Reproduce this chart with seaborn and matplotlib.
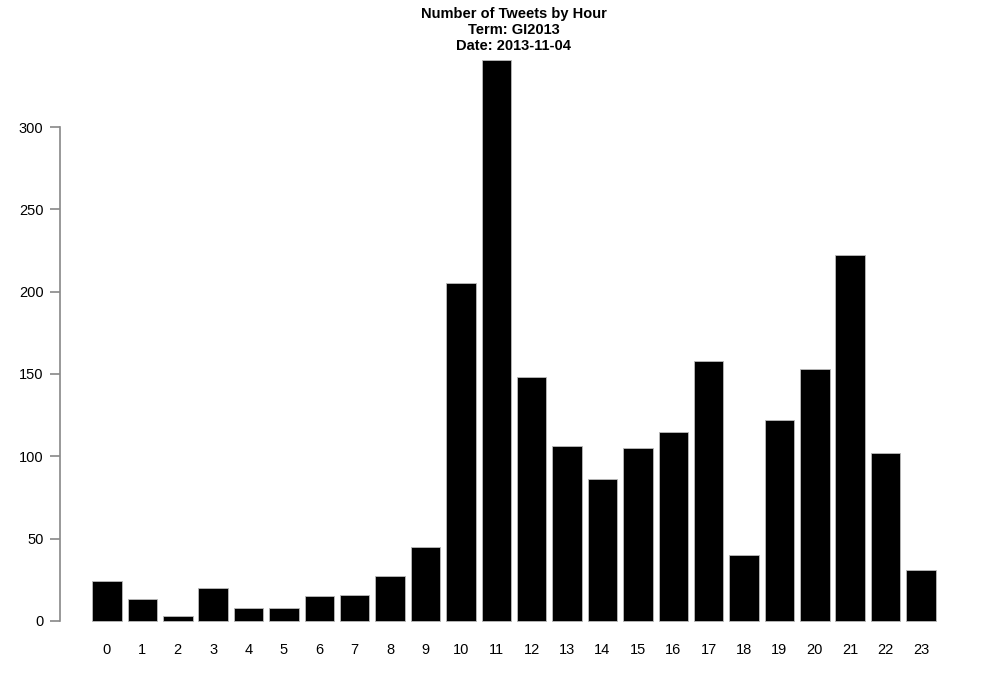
import pandas as pd
import matplotlib
matplotlib.use("Agg")
import matplotlib.pyplot as plt
import seaborn as sns

hours = [str(h) for h in range(24)]
tweets = [24, 13, 3, 20, 8, 8, 15, 16, 27, 45, 205, 341,
          148, 106, 86, 105, 115, 158, 40, 122, 153, 222, 102, 31]
yticks = [0, 50, 100, 150, 200, 250, 300]

df = pd.DataFrame({"Hour": hours, "Tweets": tweets})

sns.set_style("white")
plt.rcParams["font.family"] = ["Liberation Sans", "DejaVu Sans"]
plt.rcParams["text.color"] = "black"
plt.rcParams["xtick.color"] = "black"
plt.rcParams["ytick.color"] = "black"

fig = plt.figure(figsize=(10, 7), dpi=100)
ax = fig.add_axes([0.0585, 0.081, 0.911, 0.866])

sns.barplot(data=df, x="Hour", y="Tweets", color="black", width=1 / 1.2,
            edgecolor="#bbbbbb", linewidth=0.6, saturation=1, ax=ax)

ax.set_xlim(-1.37, 24.37)
ax.set_ylim(-0.04 * 341, 341 * 1.04)
ax.set_yticks(yticks)
ax.set_xlabel("")
ax.set_ylabel("")

for s in ["top", "right", "bottom"]:
    ax.spines[s].set_visible(False)
ax.spines["left"].set_bounds(0, 300)
ax.spines["left"].set_position(("outward", -1.2))
ax.spines["left"].set_color("#888888")
ax.spines["left"].set_linewidth(1.2)

ax.tick_params(axis="y", length=7, width=1.2, color="#888888", labelcolor="black",
               labelsize=10.5, pad=5, left=True)
ax.tick_params(axis="x", length=0, labelsize=10.5, labelcolor="black", pad=0)

fig.text(0.514, 0.99, "Number of Tweets by Hour\nTerm: GI2013\nDate: 2013-11-04",
         ha="center", va="top", fontsize=10.5, fontweight="bold", linespacing=1.17,
         color="black")

fig.savefig("out.png", dpi=100, facecolor="white")
